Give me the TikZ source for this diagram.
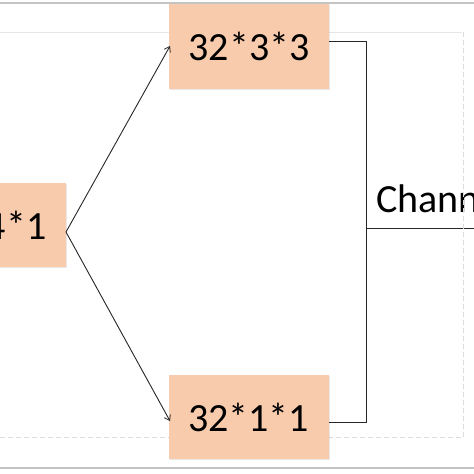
\documentclass[tikz,border=0pt]{standalone}
\usepackage{fontspec}
\setmainfont{Carlito}
\usetikzlibrary{arrows.meta,shadows}
\definecolor{peach}{HTML}{F8CBAD}
\definecolor{frameg}{HTML}{C4C4C4}
\definecolor{faintg}{HTML}{E6E6E6}
\definecolor{lineink}{HTML}{262626}
\tikzset{
  box/.style={fill=peach, draw=none, minimum width=160pt, minimum height=84pt,
    inner sep=0pt, font=\fontsize{40}{44}\selectfont,
    drop shadow={opacity=0.18, shadow xshift=1pt, shadow yshift=-1.2pt}},
  conn/.style={draw=lineink, line width=0.9pt},
  arr/.style={conn, -{Straight Barb[length=5pt,width=7pt,line width=0.8pt]}},
  frame/.style={draw=frameg, line width=1.6pt},
  faint/.style={draw=faintg, line width=0.8pt},
  faintdash/.style={draw=faintg!90!gray, line width=0.8pt, dash pattern=on 5pt off 3pt},
}
\begin{document}
\begin{tikzpicture}[x=1pt,y=-1pt]
\useasboundingbox (0,0) rectangle (474,474);
\clip (0,0) rectangle (474,474);
% background frame lines
\draw[frame] (0,3) -- (474,3);
\draw[faint] (0,32) -- (462,32);
\draw[faintdash] (0,437) -- (462,437);
\draw[frame] (0,468) -- (474,468);
% boxes
\node[box, minimum height=85pt] (b1) at (249,46.5) {32*3*3};
\node[box] (b2) at (248.5,417) {32*1*1};
\node[box, anchor=east, text width=121pt, inner xsep=19.5pt, align=right] (b0) at (66,225) {4*1};
% label
\node[anchor=base west, inner sep=0pt, font=\fontsize{40}{44}\selectfont] (lbl) at (376,212) {Channel};
% connectors
\coordinate (fork) at (66,232);
\coordinate (t1) at (170,46);
\coordinate (t2) at (170,421);
\draw[arr] (fork) -- (t1);
\draw[arr] (fork) -- (t2);
\coordinate (r1) at (366,41);
\coordinate (r2) at (366,422);
\coordinate (rm) at (366,228);
\coordinate (rout) at (474,228);
\draw[conn] (b1.east |- r1) -- (r1) -- (r2) -- (b2.east |- r2);
\draw[conn] (rm) -- (rout);
% dashed vertical over text
\draw[faintdash] (463,32) -- (463,437);
\end{tikzpicture}
\end{document}
